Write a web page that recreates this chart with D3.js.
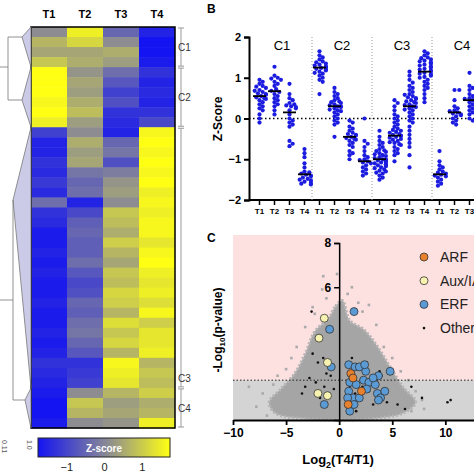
<!DOCTYPE html>
<html><head><meta charset="utf-8">
<script src="https://cdn.jsdelivr.net/npm/d3@7"></script>
<style>body{margin:0;background:#fff}text{font-family:Arial,"Liberation Sans",sans-serif}</style>
</head><body><div class="fig"></div>
<script>
// ---- data ----
var times = ['T1', 'T2', 'T3', 'T4'];
var clusters = ['C1', 'C2', 'C3', 'C4'];
// heatmap rows (z-scores T1..T4), grouped by cluster
var heatC1 = [[0.1,1.3,-0.4,-1.3],[0.6,1.0,0.1,-1.6],[0.4,0.4,0.5,-1.6],[0.8,0.5,0.3,-1.4]];
var heatC2 = [[1.6,0.2,-0.3,-1.1],[1.5,0.4,-0.6,-1.3],[1.5,0.3,-0.9,-1.2],[1.4,0.5,-0.7,-1.3],[1.5,0.7,-1.1,-1.1],[1.3,0.3,-1.2,-0.8]];
var heatC3 = [[-0.9,0.1,-1.3,1.4],[-1.3,0.5,-0.4,1.5],[-1.3,0.3,-0.2,1.4],[-1.1,0.4,-0.7,1.5],[-1.2,-0.2,-0.1,1.4],[-1.0,-0.4,0.2,1.5],
  [-1.2,-0.3,0.3,1.3],[-0.3,-1.3,0.1,1.4],[-1.1,-0.8,0.8,1.3],[-1.2,-0.5,0.7,1.4],[-1.4,-0.4,0.5,1.4],[-1.4,-0.5,0.9,1.2],
  [-1.3,-0.5,0.6,1.4],[-1.4,-0.3,0.4,1.5],[-1.3,-0.6,0.8,1.3],[-1.4,-0.8,0.7,1.2],[-1.4,-0.7,1.0,1.3],[-1.3,-0.4,0.9,1.1],
  [-1.4,-0.5,0.6,1.4],[-1.4,-0.3,1.1,0.9],[-1.3,-0.2,0.8,1.2],[-1.4,-0.4,1.0,1.2],[-1.3,-0.6,0.6,1.3],[-1.1,-1.1,1.4,0.6],
  [-1.2,-1.0,1.3,0.8],[-1.3,-0.9,1.2,0.7]];
var heatC4 = [[-1.4,0.1,0.6,0.9],[-1.5,0.8,0.3,0.5],[-1.5,0.6,0.4,0.6],[-1.4,0.1,0.2,1.3]];
// panel B: z-score per gene, cluster x timepoint
var zC1 = [[0.95,0.9,0.85,0.8,0.78,0.75,0.7,0.68,0.65,0.62,0.6,0.58,0.55,0.52,0.5,0.48,0.45,0.4,0.35,0.3,0.25,0.2,0.1,0.0,-0.1],
  [1.27,1.05,1.0,0.98,0.95,0.9,0.85,0.8,0.72,0.68,0.65,0.6,0.55,0.5,0.45,0.4,0.35,0.3,0.2,0.1],
  [0.85,0.6,0.5,0.45,0.38,0.35,0.32,0.3,0.28,0.25,0.2,0.1,0.0,-0.05,-0.1,-0.15,-0.2,-0.55,-0.62,-0.68],
  [-0.75,-0.85,-0.95,-1.1,-1.2,-1.3,-1.32,-1.35,-1.38,-1.4,-1.42,-1.45,-1.48,-1.5,-1.52,-1.55,-1.58,-1.6,-1.62]];
var zC2 = [[1.65,1.55,1.5,1.45,1.4,1.38,1.35,1.32,1.3,1.28,1.26,1.25,1.24,1.22,1.2,1.18,1.15,1.12,1.1,1.05,1.0,0.95,0.9,0.6],
  [0.75,0.65,0.6,0.55,0.5,0.45,0.42,0.4,0.38,0.35,0.32,0.3,0.3,0.28,0.25,0.22,0.2,0.18,0.15,0.1,0.05,0.0,-0.05,-0.1,-0.15,-0.45],
  [-0.05,-0.1,-0.2,-0.25,-0.3,-0.35,-0.38,-0.4,-0.42,-0.45,-0.48,-0.5,-0.52,-0.55,-0.6,-0.65,-0.7,-0.8,-0.85,-0.9,-1.0],
  [0.0,-0.55,-0.62,-0.7,-0.8,-0.9,-0.95,-1.0,-1.02,-1.05,-1.08,-1.1,-1.15,-1.2,-1.25,-1.3,-1.35,-1.4]];
var zC3 = [[-0.3,-0.45,-0.55,-0.6,-0.65,-0.7,-0.75,-0.78,-0.8,-0.82,-0.85,-0.88,-0.9,-0.92,-0.95,-0.97,-1.0,-1.0,-1.02,-1.03,-1.05,-1.07,-1.08,-1.1,-1.12,-1.13,-1.15,-1.17,-1.2,-1.22,-1.25,-1.28,-1.3,-1.33,-1.35,-1.4,-1.45,-1.5],
  [0.45,0.38,0.3,0.2,0.1,0.05,0.0,-0.05,-0.1,-0.15,-0.2,-0.25,-0.28,-0.3,-0.33,-0.35,-0.38,-0.4,-0.42,-0.43,-0.45,-0.47,-0.5,-0.52,-0.55,-0.58,-0.6,-0.63,-0.65,-0.7,-0.75,-0.8,-0.85,-0.9,-1.05],
  [1.15,1.05,0.95,0.88,0.8,0.75,0.7,0.65,0.6,0.58,0.55,0.52,0.5,0.48,0.45,0.42,0.4,0.38,0.35,0.33,0.3,0.28,0.25,0.22,0.2,0.15,0.1,0.05,0.0,-0.05,-0.1,-0.2,-0.3,-0.4,-0.5,-0.6,-0.7,-0.9,-1.2],
  [1.65,1.6,1.55,1.5,1.48,1.45,1.42,1.4,1.38,1.35,1.32,1.3,1.28,1.25,1.22,1.2,1.18,1.15,1.12,1.1,1.08,1.05,1.02,1.0,0.95,0.9,0.85,0.8,0.75,0.7,0.6,0.5,0.4]];
var zC4 = [[-0.8,-1.05,-1.15,-1.2,-1.25,-1.3,-1.33,-1.35,-1.38,-1.4,-1.42,-1.45,-1.5,-1.55,-1.6,-1.65],
  [0.7,0.7,0.45,0.3,0.25,0.2,0.18,0.15,0.12,0.1,0.08,0.05,0.0,-0.05,-0.1,-0.15],
  [1.12,0.8,0.75,0.7,0.6,0.55,0.5,0.48,0.45,0.4,0.35,0.3,0.25,0.2,0.15,0.1,0.0,-0.05],
  [1.0,0.8,0.6,0.5,0.4,0.3,0.2]];
var zMeans = [[0.55,0.67,0.15,-1.37],[1.25,0.3,-0.45,-1.05],[-1.0,-0.42,0.3,1.15],[-1.37,0.15,0.45,0.6]];
// panel C: volcano (log2 fold change, -log10 p)
var cloudOutline = [[0.3,5.4],[-0.4,5.1],[-1,4.6],[-2.3,4.0],[-3.2,3.0],[-4.2,2.1],[-5.5,1.4],[-6.6,0.8],[-6,0.3],[-3,0.05],[0,0],[3,0.05],[6,0.3],[7.2,0.8],[6,1.5],[4.8,2.4],[3.5,3.4],[2.3,4.1],[1,4.5]];
var greyPts = [[-0.2,6.6],[-1.5,6.5],[-1.2,5.5],[1.2,6.0],[-2.5,5.1],[-2.3,4.8],[2.8,5.2],[-4.0,3.3],[-4.5,2.8],[-5.8,2.0],[-6.2,1.6],[-7.2,1.2],[-7.8,0.6],[-6.8,0.2],[4.2,3.3],[5.0,2.8],[5.8,2.2],[6.5,1.8],[7.2,1.3],[7.8,0.9],[8.0,0.5],[3.5,4.3],[2.2,4.9],[-3.2,4.2],[-1.6,5.9],[0.8,5.7],[-5,2.3],[-8.5,1.5],[6.8,0.4],[1.8,5.3]];
var otherPts = [[-2.5,3.0],[-2.0,2.6],[-1.5,2.8],[-1.2,2.1],[-2.8,1.9],[-3.2,1.5],[-2.2,1.7],[-0.5,1.4],[-3.5,1.2],[-1.8,1.0],[-0.8,2.0],[-1.4,1.5],[-2.6,4.9],
  [1.8,2.3],[2.5,2.2],[3.0,1.8],[2.8,1.3],[3.5,1.0],[2.2,1.5],[1.5,1.2],[1.0,1.5],[2.0,0.9],[3.8,2.2],[4.2,1.4],[4.5,0.8],[5.5,0.7],[6.2,0.5],[6.8,1.5],[7.8,1.0],[10.2,0.8],[10.5,0.9],[2.6,2.6],[1.2,2.8],[3.2,0.7],[1.6,0.4],[4.0,2.0]];
var arfPts = [[1.1,2.1],[1.3,1.9],[2.1,1.3],[0.85,0.7]];
var auxPts = [[-1.4,4.6],[-1.9,3.7],[-1.1,2.6],[-2.0,1.2],[-1.1,1.1]];
var erfPts = [[1.4,4.9],[-0.9,4.1],[-0.75,2.4],[-1.4,0.7],[0.9,2.5],[1.5,2.4],[1.9,2.4],[2.5,2.2],[3.7,2.0],[4.8,2.2],[1.0,1.7],[1.6,1.6],[2.3,1.8],[2.8,1.7],[3.4,1.6],[3.2,1.9],[0.9,1.3],[1.3,1.0],[1.9,1.0],[2.6,1.4],[3.6,1.2],[3.9,1.0],[4.3,1.3],[3.7,0.9],[1.0,0.4],[1.4,0.7],[0.8,1.0],[2.4,2.5]];
var legendItems = ['ARF', 'Aux/IAA', 'ERF', 'Other'];

// ---- setup ----
var W = 474, H = 474;
var svg = d3.select('div.fig').append('svg').attr('width', W).attr('height', H);
var bold = function(s) { return s.attr('font-weight', 'bold'); };

// ---- A: heatmap ----
var heatGroups = [heatC1, heatC2, heatC3, heatC4];
var heatRows = [];
heatGroups.forEach(function(g, ci) { g.forEach(function(r) { heatRows.push({c: ci, v: r}); }); });
var hx = d3.scaleBand().domain(times).range([31, 175]);
var hy = d3.scaleBand().domain(d3.range(heatRows.length)).range([27, 428]);
var color = d3.scaleLinear().domain([-1.5, 0, 1.5]).range(['#1414f2', '#84849a', '#ffff14']).clamp(true);

var cells = [];
heatRows.forEach(function(r, i) { r.v.forEach(function(v, j) { cells.push({i: i, t: times[j], v: v}); }); });
svg.append('g').selectAll('rect').data(cells).enter().append('rect')
  .attr('x', function(d) { return hx(d.t); })
  .attr('y', function(d) { return hy(d.i); })
  .attr('width', hx.bandwidth())
  .attr('height', hy.bandwidth() + 0.5)
  .attr('fill', function(d) { return color(d.v); });
svg.append('rect').attr('x', 31).attr('y', 27).attr('width', 144).attr('height', 401)
  .attr('fill', 'none').attr('stroke', '#000').attr('stroke-width', 1.5);
svg.append('g').selectAll('text').data(times).enter().append('text').call(bold)
  .attr('x', function(d) { return hx(d) + hx.bandwidth() / 2; }).attr('y', 18)
  .attr('text-anchor', 'middle').attr('font-size', 11).text(function(d) { return d; });

// cluster brackets + dendrogram triangles
var bounds = [];
var start = 0;
heatGroups.forEach(function(g, ci) {
  bounds.push([hy(start), hy(start + g.length - 1) + hy.bandwidth()]);
  start += g.length;
});
var br = svg.append('g').attr('stroke', '#999').attr('fill', 'none');
bounds.forEach(function(b, ci) {
  br.append('line').attr('x1', 181).attr('x2', 181).attr('y1', b[0] + 1).attr('y2', b[1] - 1);
  br.append('line').attr('x1', 178).attr('x2', 184).attr('y1', b[0] + 1).attr('y2', b[0] + 1);
  br.append('line').attr('x1', 178).attr('x2', 184).attr('y1', b[1] - 1).attr('y2', b[1] - 1);
  svg.append('text').attr('x', 178).attr('y', ci == 2 ? b[1] - 6 : (b[0] + b[1]) / 2 + 4)
    .attr('font-size', 10).attr('fill', '#333').text(clusters[ci]);
});
var tips = [[22, 37], [22, 100], [13, 200], [25, 400]];
bounds.forEach(function(b, ci) {
  svg.append('path').attr('d', 'M' + tips[ci][0] + ',' + tips[ci][1] + 'L31,' + b[0] + 'L31,' + b[1] + 'Z')
    .attr('fill', '#cbcbe8').attr('stroke', '#777').attr('stroke-width', 0.8);
});
var dg = svg.append('g').attr('stroke', '#777').attr('fill', 'none').attr('stroke-width', 0.8);
dg.append('path').attr('d', 'M22,37H8V100H22M8,67H0');
dg.append('path').attr('d', 'M13,200V400H25M13,300H0');

// colour bar
var grad = svg.append('defs').append('linearGradient').attr('id', 'zgrad');
[[0, '#1414f2'], [0.5, '#84849a'], [1, '#ffff14']].forEach(function(s) {
  grad.append('stop').attr('offset', s[0]).attr('stop-color', s[1]);
});
var cb = d3.scaleLinear().domain([-1.75, 1.75]).range([38, 170]);
svg.append('rect').attr('x', 38).attr('y', 438).attr('width', 132).attr('height', 19)
  .attr('fill', 'url(#zgrad)').attr('stroke', '#222');
svg.append('text').call(bold).attr('x', 104).attr('y', 452).attr('text-anchor', 'middle')
  .attr('font-size', 10).attr('fill', '#fff').text('Z-score');
svg.append('g').attr('transform', 'translate(0,457)')
  .call(d3.axisBottom(cb).tickValues([-1, 0, 1]).tickSize(0).tickPadding(6).tickFormat(d3.format('d')))
  .call(function(g) { g.select('.domain').remove(); g.selectAll('text').attr('font-size', 11).attr('fill', '#222'); });
svg.append('text').attr('transform', 'translate(27,440) rotate(90)').attr('font-size', 7).attr('fill', '#555').text('1.0');
svg.append('text').attr('transform', 'translate(2,440) rotate(90)').attr('font-size', 7).attr('fill', '#555').text('0.11');

// ---- B: z-score dot plot ----
var zAll = [zC1, zC2, zC3, zC4];
var bcats = [];
clusters.forEach(function(c) { times.forEach(function(t) { bcats.push(c + t); }); });
var bx = d3.scaleBand().domain(bcats).range([252, 492]);
var by = d3.scaleLinear().domain([-2, 2]).range([200, 37]);
svg.append('text').call(bold).attr('x', 207).attr('y', 13).attr('font-size', 12).text('B');
svg.append('text').call(bold).attr('transform', 'translate(222,119) rotate(-90)')
  .attr('text-anchor', 'middle').attr('font-size', 12).text('Z-Score');
svg.append('g').attr('transform', 'translate(249,0)')
  .call(d3.axisLeft(by).ticks(4).tickSize(5).tickFormat(d3.format('d')))
  .call(function(g) { g.selectAll('path,line').attr('stroke-width', 2); g.selectAll('text').attr('font-size', 11).attr('font-weight', 'bold'); });
svg.append('g').attr('transform', 'translate(0,200)')
  .call(d3.axisBottom(bx).tickSize(5).tickFormat(function(d) { return d.slice(2); }))
  .call(function(g) {
    g.select('.domain').attr('d', 'M249,0H474').attr('stroke-width', 2);
    g.selectAll('line').attr('stroke-width', 1.5);
    g.selectAll('text').attr('font-size', 8).attr('font-weight', 'bold');
  });
svg.append('line').attr('x1', 249).attr('x2', 474).attr('y1', by(0)).attr('y2', by(0))
  .attr('stroke', '#000').attr('stroke-width', 1.5).attr('stroke-dasharray', '1.5,2.5');
clusters.forEach(function(c, ci) {
  if (ci > 0) {
    var xd = bx(c + 'T1');
    svg.append('line').attr('x1', xd).attr('x2', xd).attr('y1', 37).attr('y2', 200)
      .attr('stroke', '#999').attr('stroke-dasharray', '1,2');
  }
  svg.append('text').attr('x', bx(c + 'T2') + bx.bandwidth()).attr('y', 50)
    .attr('text-anchor', 'middle').attr('font-size', 13).text(c);
});
// simple beeswarm dodge
var r = 2.1;
var dots = [];
zAll.forEach(function(grp, ci) {
  grp.forEach(function(vals, ti) {
    var cx = bx(clusters[ci] + times[ti]) + bx.bandwidth() / 2;
    var placed = [];
    vals.forEach(function(v) {
      var y = by(v), k = 0, off = 0;
      while (true) {
        off = (k % 2 ? 1 : -1) * Math.ceil(k / 2) * 1.6;
        var hit = placed.some(function(p) { return Math.hypot(p[0] - off, p[1] - y) < 2 * r - 0.6; });
        if (!hit || Math.abs(off) > 6) break;
        k++;
      }
      placed.push([off, y]);
      dots.push([cx + off, y]);
    });
  });
});
svg.append('g').selectAll('circle').data(dots).enter().append('circle')
  .attr('cx', function(d) { return d[0]; }).attr('cy', function(d) { return d[1]; })
  .attr('r', r).attr('fill', '#1c1ce0');
var means = [];
zMeans.forEach(function(m, ci) { m.forEach(function(v, ti) { means.push({k: clusters[ci] + times[ti], v: v}); }); });
svg.append('g').selectAll('line').data(means).enter().append('line')
  .attr('x1', function(d) { return bx(d.k) + 1; }).attr('x2', function(d) { return bx(d.k) + bx.bandwidth() - 1; })
  .attr('y1', function(d) { return by(d.v); }).attr('y2', function(d) { return by(d.v); })
  .attr('stroke', '#000').attr('stroke-width', 1.8);

// ---- C: volcano ----
var vx = d3.scaleLinear().domain([-10, 12.7]).range([233, 474]);
var vy = d3.scaleLinear().domain([0, 8]).range([420, 243]);
var thr = 1.8;
svg.append('rect').attr('x', 233).attr('y', 235).attr('width', 241).attr('height', vy(thr) - 235).attr('fill', '#fde0e0');
svg.append('rect').attr('x', 233).attr('y', vy(thr)).attr('width', 241).attr('height', 420 - vy(thr)).attr('fill', '#d4d4d4');
svg.append('text').call(bold).attr('x', 207).attr('y', 242).attr('font-size', 12).text('C');
svg.append('path').datum(cloudOutline)
  .attr('d', d3.line().x(function(d) { return vx(d[0]); }).y(function(d) { return vy(d[1]); }).curve(d3.curveCatmullRomClosed))
  .attr('fill', '#a5a5a5').attr('stroke', '#b5b5b5').attr('stroke-width', 3).attr('stroke-dasharray', '2,2');
svg.append('g').selectAll('rect').data(greyPts).enter().append('rect')
  .attr('x', function(d) { return vx(d[0]) - 1.3; }).attr('y', function(d) { return vy(d[1]) - 1.3; })
  .attr('width', 2.6).attr('height', 2.6).attr('fill', '#aaa');
svg.append('line').attr('x1', 233).attr('x2', 474).attr('y1', vy(thr)).attr('y2', vy(thr))
  .attr('stroke', '#222').attr('stroke-dasharray', '1.5,2');
svg.append('g').attr('transform', 'translate(' + vx(0) + ',0)')
  .call(d3.axisLeft(vy).tickValues([6, 8]).tickSize(5))
  .call(function(g) { g.selectAll('path,line').attr('stroke-width', 1.5); g.selectAll('text').attr('font-size', 12).attr('font-weight', 'bold'); });
svg.append('g').attr('transform', 'translate(0,420)')
  .call(d3.axisBottom(vx).tickValues([-10, -5, 0, 5, 10]).tickSize(5).tickSizeOuter(0))
  .call(function(g) { g.selectAll('path,line').attr('stroke-width', 1.8); g.selectAll('text').attr('font-size', 12).attr('font-weight', 'bold'); });
svg.append('g').selectAll('circle').data(otherPts).enter().append('circle')
  .attr('cx', function(d) { return vx(d[0]); }).attr('cy', function(d) { return vy(d[1]); })
  .attr('r', 1.3).attr('fill', '#111');
var hl = [[erfPts, '#5b9bd5'], [auxPts, '#f7f2b0'], [arfPts, '#e8812e']];
hl.forEach(function(h) {
  svg.append('g').selectAll('circle').data(h[0]).enter().append('circle')
    .attr('cx', function(d) { return vx(d[0]); }).attr('cy', function(d) { return vy(d[1]); })
    .attr('r', 4).attr('fill', h[1]).attr('stroke', '#333').attr('stroke-width', 0.8);
});
var legColors = ['#e8812e', '#f7f2b0', '#5b9bd5', '#111'];
var lg = svg.append('g').selectAll('g').data(legendItems).enter().append('g')
  .attr('transform', function(d, i) { return 'translate(424,' + (257 + i * 23.7) + ')'; });
lg.append('circle').attr('r', function(d, i) { return i == 3 ? 1.3 : 4; })
  .attr('fill', function(d, i) { return legColors[i]; })
  .attr('stroke', function(d, i) { return i == 3 ? 'none' : '#333'; }).attr('stroke-width', 0.8);
lg.append('text').attr('x', 16).attr('y', 5).attr('font-size', 14).attr('fill', '#222').text(function(d) { return d; });
var yl = svg.append('text').call(bold).attr('transform', 'translate(222,330) rotate(-90)')
  .attr('text-anchor', 'middle').attr('font-size', 12);
yl.append('tspan').text('-Log');
yl.append('tspan').attr('font-size', 8).attr('dy', 3).text('10');
yl.append('tspan').attr('dy', -3).text('(p-value)');
var xl = svg.append('text').call(bold).attr('x', 338).attr('y', 464).attr('text-anchor', 'middle').attr('font-size', 13);
xl.append('tspan').text('Log');
xl.append('tspan').attr('font-size', 9).attr('dy', 4).text('2');
xl.append('tspan').attr('dy', -4).text('(T4/T1)');
</script>
</body></html>
